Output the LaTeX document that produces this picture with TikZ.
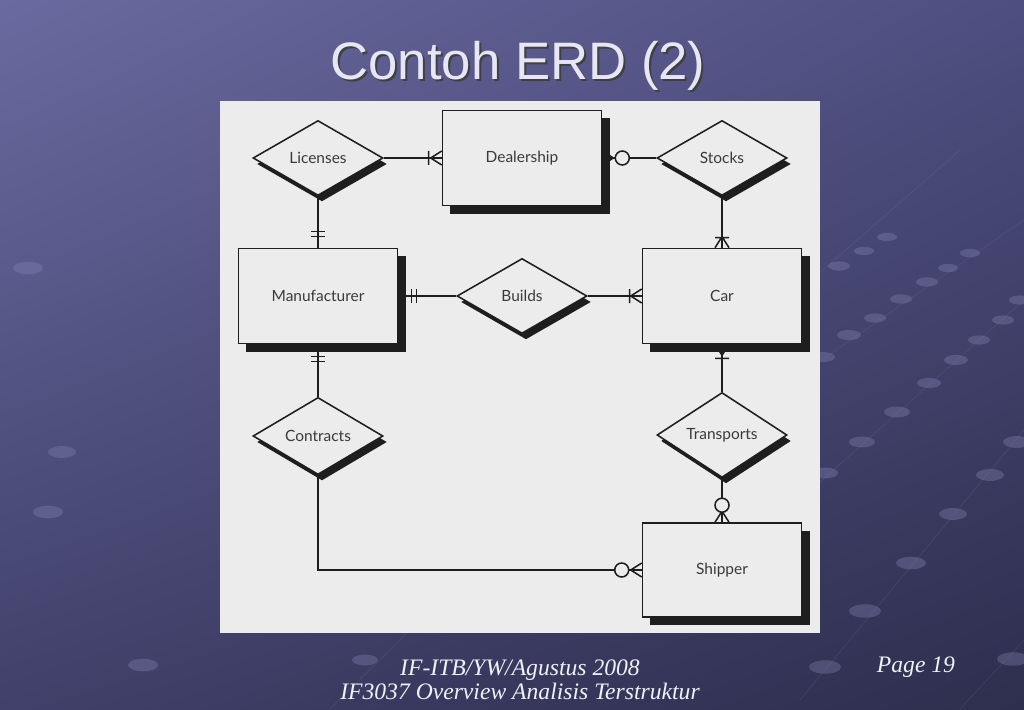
\documentclass[tikz,border=0pt]{standalone}
\usepackage{fontspec}
\setmainfont{Liberation Serif}
\newfontfamily\titlefont{Liberation Sans}
\newfontfamily\erfont{Lato}
\usetikzlibrary{shapes.geometric,shadows,shadings,positioning}

\definecolor{bgupleft}{HTML}{6A6AA0}
\definecolor{bgupright}{HTML}{4E4E80}
\definecolor{bglowleft}{HTML}{40406A}
\definecolor{bglowright}{HTML}{2E2E4E}
\definecolor{ovalfill}{HTML}{8C8CBC}
\definecolor{scanbg}{HTML}{ECECEC}
\definecolor{inkline}{HTML}{1E1E1E}
\definecolor{inktext}{HTML}{3A3A3A}
\definecolor{titletext}{HTML}{E6E6F6}
\definecolor{foottext}{HTML}{F0F0F8}

\newcommand{\erlabel}{\erfont\fontsize{11}{13}\selectfont}

\begin{document}
\begin{tikzpicture}[x=0.025cm, y=-0.025cm,
    erline/.style={draw=inkline, line width=1.1pt},
    entity/.style={rectangle, erline, fill=scanbg, font=\erlabel, text=inktext,
      minimum width=3.975cm, minimum height=2.375cm,
      drop shadow={shadow xshift=0.2cm, shadow yshift=-0.2cm, fill=inkline, opacity=1}},
    relation/.style={diamond, erline, fill=scanbg, font=\erlabel, text=inktext,
      inner sep=0pt, minimum width=3.25cm, minimum height=1.875cm,
      drop shadow={shadow xshift=0.1cm, shadow yshift=-0.15cm, fill=inkline, opacity=1}},
    pics/oneormany/.style={code={
      \draw[erline] (0,-7) -- (11,0) -- (0,7) (#1,-7) -- (#1,7);}},
    pics/zeroormany/.style={code={
      \draw[erline] (0,-7) -- (11,0) -- (0,7);
      \draw[erline, fill=scanbg] (#1,0) circle (0.175cm);}},
    pics/onlyone/.style={code={
      \draw[erline] (#1,-7) -- (#1,7) (#1+5,-7) -- (#1+5,7);}}]

  % slide background
  \useasboundingbox (0,0) rectangle (1024,709);
  \shade[upper left=bgupleft, upper right=bgupright,
         lower left=bglowleft, lower right=bglowright] (0,0) rectangle (1024,709);
  % faint guide lines of the decoration
  \foreach \ax/\ay/\bx/\by in {800/290/960/150, 800/375/1024/220, 800/500/1024/300,
                               800/700/1024/430, 960/709/1024/640, 330/709/420/620}
    \draw[ovalfill, opacity=0.18, line width=0.4pt] (\ax,\ay) -- (\bx,\by);
  \foreach \ox/\oy/\rx in {887/237/10, 864/251/10, 839/266/11,
                           970/253/10, 948/268/10, 927/282/11, 901/299/11, 875/318/11, 849/335/12, 823/357/12,
                           1020/300/11, 1003/320/11, 979/340/11, 956/360/12, 929/383/12, 897/412/13, 862/442/13, 825/473/13,
                           1017/442/14, 990/475/14, 953/514/14, 911/563/15, 865/611/16, 825/667/16,
                           1013/659/16, 28/268/15, 62/452/14, 48/512/15, 143/665/15, 365/660/13}
    \fill[ovalfill, opacity=0.32] (\ox,\oy) ellipse ({\rx*0.025cm} and {\rx*0.0105cm});

  % title
  \node[font=\titlefont\fontsize{37.5}{40}\selectfont, text=black!75, anchor=base]
    (titleshadow) at (520,82) {Contoh ERD (2)};
  \node[font=\titlefont\fontsize{37.5}{40}\selectfont, text=titletext, anchor=base]
    (title) at (518,80) {Contoh ERD (2)};

  % scanned sheet
  \fill[scanbg] (220,101) rectangle (820,633);

  % entities and relationships
  \node[relation] (lic) at (318,158) {Licenses};
  \node[entity] (deal) at (522,158) {Dealership};
  \node[relation] (stock) at (722,158) {Stocks};
  \node[entity] (manu) at (318,296) {Manufacturer};
  \node[relation] (build) at (522,296) {Builds};
  \node[entity] (car) at (722,296) {Car};
  \node[relation] (contr) at (318,436) {Contracts};
  \node[relation] (trans) at (722,435) {Transports};
  \node[entity, minimum height=2.35cm] (ship) at (722,570) {Shipper};

  % connectors
  \draw[erline] (lic.east) -- (deal.west);
  \draw[erline] (deal.east) -- (stock.west);
  \draw[erline] (lic.south) -- (manu.north);
  \draw[erline] (manu.east) -- (build.west);
  \draw[erline] (build.east) -- (car.west);
  \draw[erline] (stock.south) -- (car.north);
  \draw[erline] (car.south) -- (trans.north);
  \draw[erline] (trans.south) -- (ship.north);
  \draw[erline] (manu.south) -- (contr.north);
  \draw[erline] (contr.south) |- (ship.west);

  % cardinality marks
  \pic[rotate=180] at (deal.west) {oneormany=13};
  \pic at (deal.east) {zeroormany=20};
  \pic[rotate=90] at (manu.north) {onlyone=11};
  \pic at (manu.east) {onlyone=13};
  \pic[rotate=-90] at (manu.south) {onlyone=12};
  \pic[rotate=180] at (car.west) {oneormany=12};
  \pic[rotate=90] at (car.north) {oneormany=10};
  \pic[rotate=-90] at (car.south) {oneormany=14};
  \pic[rotate=90] at (ship.north) {zeroormany=17};
  \pic[rotate=180] at (ship.west) {zeroormany=20};

  % footer
  \node[font=\itshape\fontsize{16.8}{20}\selectfont, text=foottext, anchor=base]
    (footone) at (520,675) {IF-ITB/YW/Agustus 2008};
  \node[font=\itshape\fontsize{16.8}{20}\selectfont, text=foottext, anchor=base]
    (foottwo) at (520,699) {IF3037 Overview Analisis Terstruktur};
  \node[font=\itshape\fontsize{16.8}{20}\selectfont, text=foottext, anchor=base]
    (page) at (916,672) {Page 19};
\end{tikzpicture}
\end{document}
